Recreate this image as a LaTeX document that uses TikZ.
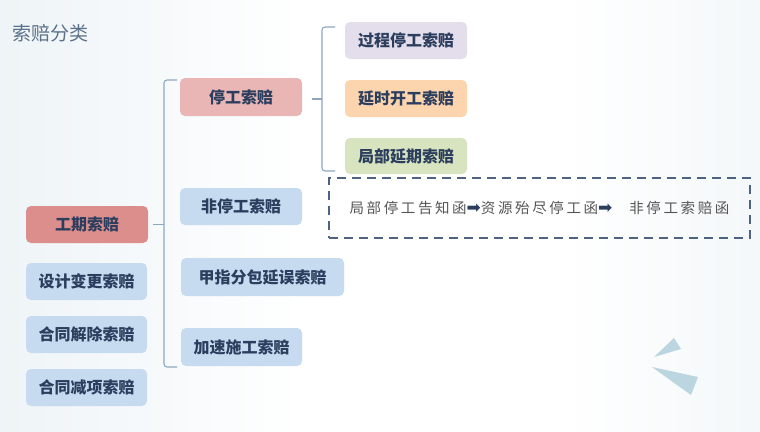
\documentclass[tikz,border=0pt]{standalone}
\usepackage{fontspec}
\setmainfont{Noto Sans CJK SC}
\newfontfamily\arrowfont{DejaVu Sans}
\usetikzlibrary{calc}
\definecolor{navy}{HTML}{2C3E5E}
\definecolor{redbox}{HTML}{DC8E8D}
\definecolor{pinkbox}{HTML}{E9B5B5}
\definecolor{bluebox}{HTML}{C6DAF0}
\definecolor{lavbox}{HTML}{E4DEEC}
\definecolor{peachbox}{HTML}{FCD4AE}
\definecolor{greenbox}{HTML}{D7E4BF}
\definecolor{brk}{HTML}{8FA6C0}
\definecolor{dashc}{HTML}{4E6382}
\definecolor{tri}{HTML}{BBD5E1}
\definecolor{titlec}{HTML}{5B7089}
\definecolor{bgl}{HTML}{D9E6ED}
\definecolor{bgr}{HTML}{DEEAEE}
\definecolor{flowtext}{HTML}{555555}
\pgfdeclarehorizontalshading{bgshade}{100bp}{color(0bp)=(bgl); color(45bp)=(white); color(62bp)=(white); color(100bp)=(bgr)}
\tikzset{
  box/.style={rounded corners=5pt, inner sep=0pt, text=navy,
    font=\bfseries\fontsize{16}{16}\selectfont, minimum height=37pt},
  brace/.style={draw=brk, line width=1.1pt, rounded corners=3pt},
  arr/.style={},
}
\newcommand{\flowarrow}{{\arrowfont\fontsize{17}{17}\selectfont\color{navy}➡}}
\begin{document}
\begin{tikzpicture}[x=1pt,y=-1pt]
\useasboundingbox (0,0) rectangle (760,431);
\shade[shading=bgshade] (0,0) rectangle (760,431);
\node[anchor=west, text=titlec, font=\fontsize{19}{19}\selectfont, inner sep=0pt] (title) at (12,33) {索赔分类};

% level 1
\node[box, fill=redbox, minimum width=122pt] (gq) at (87,224.5) {工期索赔};
\node[box, fill=bluebox, minimum width=121pt] (sj) at (86.5,281.5) {设计变更索赔};
\node[box, fill=bluebox, minimum width=121pt] (jc) at (86.5,334.5) {合同解除索赔};
\node[box, fill=bluebox, minimum width=121pt] (jx) at (86.5,387.5) {合同减项索赔};

% level 2
\node[box, fill=pinkbox, minimum width=122pt, minimum height=38pt] (tg) at (241,97) {停工索赔};
\node[box, fill=bluebox, minimum width=122pt] (ftg) at (241,206.5) {非停工索赔};
\node[box, fill=bluebox, minimum width=163pt, minimum height=38pt] (jz) at (262.5,277) {甲指分包延误索赔};
\node[box, fill=bluebox, minimum width=121pt, minimum height=38pt] (js) at (241.5,347) {加速施工索赔};

% level 3
\node[box, fill=lavbox, minimum width=122pt] (gc) at (406,40.5) {过程停工索赔};
\node[box, fill=peachbox, minimum width=122pt] (ys) at (406,98.5) {延时开工索赔};
\node[box, fill=greenbox, minimum width=122pt, minimum height=36pt] (jb) at (406,156) {局部延期索赔};

% dashed flow box
\node[draw=dashc, line width=1.8pt, dash pattern=on 9pt off 6pt,
  minimum width=421pt, minimum height=60pt, inner sep=0pt,
  text=flowtext, font=\fontsize{14.5}{14.5}\selectfont] (flow) at (539.5,208)
  {{\addfontfeature{LetterSpace=18}局部停工告知函}\flowarrow{\addfontfeature{LetterSpace=18}资源殆尽停工函}\flowarrow\hspace{17pt}{\addfontfeature{LetterSpace=18}非停工索赔函}};

% braces
\draw[brace] (177,80) -- (164,80) -- (164,367) -- (177,367);
\draw[draw=brk, line width=1.1pt] ($(gq.east)+(5,0)$) -- (164,224.5);
\draw[brace] (335,27) -- (322,27) -- (322,171) -- (335,171);
\draw[draw=brk, line width=1.1pt] ($(tg.east)+(10,2)$) -- (322,99);

% decorative triangles
\fill[tri] (674,338) -- (654,357) -- (681,349) -- cycle;
\fill[tri] (652,367) -- (698,377) -- (691,395) -- cycle;
\end{tikzpicture}
\end{document}
